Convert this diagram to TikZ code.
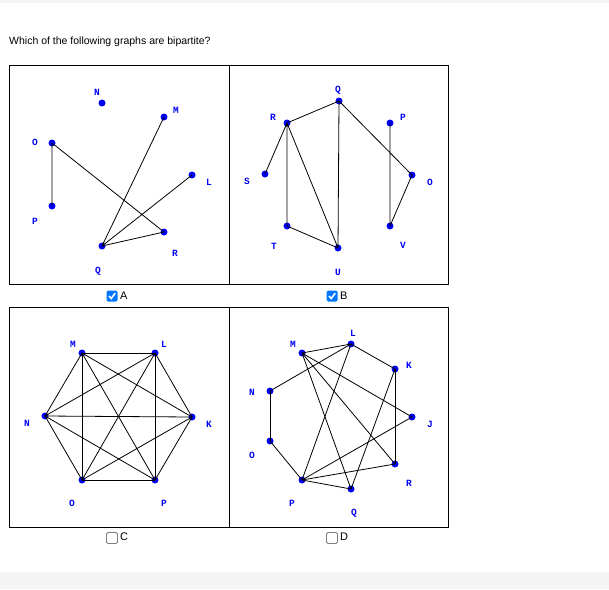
\documentclass[tikz,border=0pt]{standalone}
\usepackage{fontspec}
\setmainfont{Liberation Sans}
\newfontfamily\lblfont{Liberation Mono}
\definecolor{nodeblue}{RGB}{0,0,245}
\definecolor{chkblue}{RGB}{0,117,255}
\definecolor{pagegray}{RGB}{244,244,244}
\begin{document}
\begin{tikzpicture}[x=1pt,y=-1pt,
  vtx/.style={circle,fill=nodeblue,inner sep=0pt,minimum size=7pt},
  lbl/.style={font=\lblfont\bfseries\fontsize{9.5}{10}\selectfont,text=nodeblue,inner sep=0pt},
  edge/.style={draw=black,line width=0.8pt},
  panel/.style={draw=black,line width=1pt,fill=white},
  cbox/.style={minimum size=11pt,inner sep=0pt,rounded corners=1.5pt},
  opt/.style={font=\fontsize{11}{13}\selectfont,inner sep=0pt,anchor=west}]
\useasboundingbox (0,0) rectangle (609,589);
\fill[pagegray] (0,0) rectangle (609,589);
\fill[white] (0,3) rectangle (609,572);
\node[anchor=west,inner sep=0pt,font=\fontsize{10.5}{12}\selectfont] (title) at (9,42) {Which of the following graphs are bipartite?};
\draw[panel] (9,65) rectangle (229,284);
\draw[panel] (229,65) rectangle (448,284);
\draw[panel] (9,307) rectangle (229,527);
\draw[panel] (229,307) rectangle (448,527);
% Graph A
\node[vtx] (aN) at (102,103) {}; \node[lbl] at (97,92) {N};
\node[vtx] (aM) at (164,117) {}; \node[lbl] at (176,110) {M};
\node[vtx] (aO) at (52,143) {}; \node[lbl] at (35,142) {O};
\node[vtx] (aP) at (52,206) {}; \node[lbl] at (35,221) {P};
\node[vtx] (aL) at (192,175) {}; \node[lbl] at (209,182) {L};
\node[vtx] (aR) at (164,232) {}; \node[lbl] at (175,253) {R};
\node[vtx] (aQ) at (102,246) {}; \node[lbl] at (98,271) {Q};
\draw[edge] (aO.center)--(aP.center) (aO.center)--(aR.center) (aM.center)--(aQ.center) (aL.center)--(aQ.center) (aQ.center)--(aR.center);
% Graph B
\node[vtx] (bQ) at (339,101) {}; \node[lbl] at (338,90) {Q};
\node[vtx] (bR) at (287,123) {}; \node[lbl] at (273,117) {R};
\node[vtx] (bP) at (390,123) {}; \node[lbl] at (403,117) {P};
\node[vtx] (bS) at (265,174) {}; \node[lbl] at (247,181) {S};
\node[vtx] (bO) at (412,175) {}; \node[lbl] at (430,182) {O};
\node[vtx] (bT) at (287,226) {}; \node[lbl] at (274,246) {T};
\node[vtx] (bU) at (338,248) {}; \node[lbl] at (338,272) {U};
\node[vtx] (bV) at (390,226) {}; \node[lbl] at (403,245) {V};
\draw[edge] (bR.center)--(bQ.center) (bQ.center)--(bU.center) (bQ.center)--(bO.center) (bR.center)--(bS.center) (bR.center)--(bT.center) (bR.center)--(bU.center) (bT.center)--(bU.center) (bP.center)--(bV.center) (bO.center)--(bV.center);
% Graph C
\node[vtx] (cH) at (82,353) {}; \node[lbl] at (73,344) {M};
\node[vtx] (cL) at (155,353) {}; \node[lbl] at (164,344) {L};
\node[vtx] (cN) at (45,416) {}; \node[lbl] at (27,423) {N};
\node[vtx] (cK) at (192,417) {}; \node[lbl] at (209,424) {K};
\node[vtx] (cO) at (82,480) {}; \node[lbl] at (72,503) {O};
\node[vtx] (cP) at (155,480) {}; \node[lbl] at (164,503) {P};
\foreach \a/\b in {H/L,H/N,H/K,H/O,H/P,L/N,L/K,L/O,L/P,N/K,N/O,N/P,K/O,K/P,O/P}
  \draw[edge] (c\a.center)--(c\b.center);
% Graph D
\node[vtx] (dL) at (351,344) {}; \node[lbl] at (353,333) {L};
\node[vtx] (dH) at (302,353) {}; \node[lbl] at (293,344) {M};
\node[vtx] (dK) at (395,369) {}; \node[lbl] at (409,365) {K};
\node[vtx] (dN) at (270,391) {}; \node[lbl] at (252,392) {N};
\node[vtx] (dJ) at (412,417) {}; \node[lbl] at (430,424) {J};
\node[vtx] (dO) at (270,441) {}; \node[lbl] at (252,455) {O};
\node[vtx] (dR) at (395,464) {}; \node[lbl] at (409,483) {R};
\node[vtx] (dP) at (302,480) {}; \node[lbl] at (292,503) {P};
\node[vtx] (dQ) at (351,489) {}; \node[lbl] at (354,513) {Q};
\foreach \a/\b in {H/L,L/K,N/L,N/O,O/P,L/P,H/Q,H/J,H/R,K/R,K/Q,P/J,P/R,P/Q}
  \draw[edge] (d\a.center)--(d\b.center);
% checkboxes
\node[cbox,fill=chkblue] (ca) at (112,296) {};
\draw[white,line width=1.6pt] ([shift={(-3,0)}]ca.center)--([shift={(-0.8,2.5)}]ca.center)--([shift={(3.2,-2.8)}]ca.center);
\node[opt] (ta) at (120,296) {A};
\node[cbox,fill=chkblue] (cb) at (332,296) {};
\draw[white,line width=1.6pt] ([shift={(-3,0)}]cb.center)--([shift={(-0.8,2.5)}]cb.center)--([shift={(3.2,-2.8)}]cb.center);
\node[opt] (tb) at (340,296) {B};
\node[cbox,draw=gray,line width=0.8pt,fill=white] (cc) at (112,538) {};
\node[opt] (tc) at (120,537) {C};
\node[cbox,draw=gray,line width=0.8pt,fill=white] (cd) at (332,538) {};
\node[opt] (td) at (340,537) {D};
\end{tikzpicture}
\end{document}
